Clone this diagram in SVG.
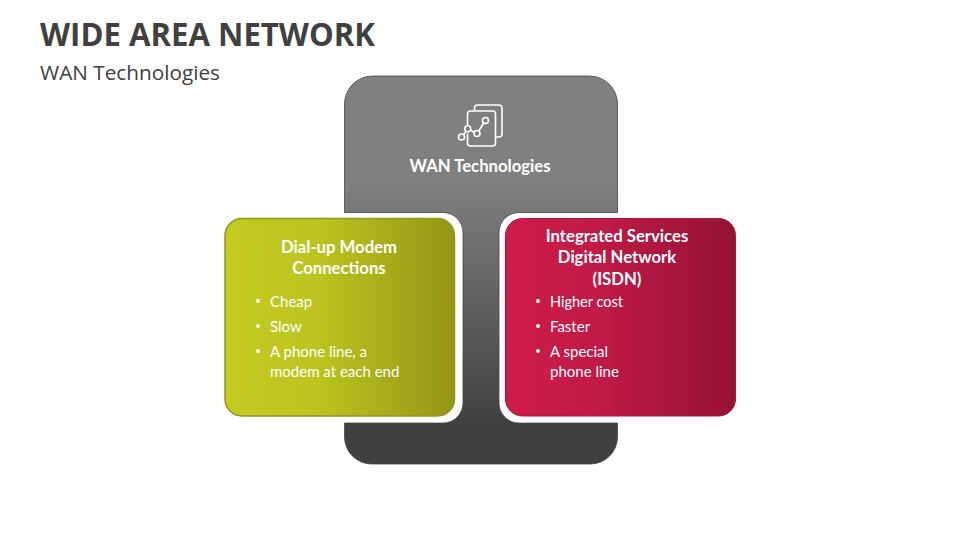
<svg xmlns="http://www.w3.org/2000/svg" width="960" height="540" viewBox="0 0 960 540">
<style>
text{font-family:Lato,"Liberation Sans",sans-serif;fill:#fff}
.h{font-size:16.700px;font-weight:700;text-anchor:middle}
.b{font-size:15px}
.card{stroke-width:1.5}
.ic{fill:none;stroke:#fff;stroke-width:1.6;stroke-linecap:round;stroke-linejoin:round}
</style>
<defs>
<linearGradient id="gT" x1="0" y1="0" x2="0" y2="1"><stop offset="0" stop-color="#808080"/><stop offset="0.28" stop-color="#7f7f7f"/><stop offset="0.9" stop-color="#404040"/><stop offset="1" stop-color="#404040"/></linearGradient>
<linearGradient id="gL"><stop offset="0" stop-color="#c3cb21"/><stop offset="0.4" stop-color="#bcc41f"/><stop offset="1" stop-color="#929616"/></linearGradient>
<linearGradient id="gR"><stop offset="0" stop-color="#cf1c4a"/><stop offset="0.4" stop-color="#c01a46"/><stop offset="1" stop-color="#941235"/></linearGradient>
</defs>
<rect width="960" height="540" fill="#fff"/>
<g id="title">
<text x="40" y="45.500" style="font-family:'Open Sans','Liberation Sans',sans-serif;font-size:33px;font-weight:700;fill:#404040" textLength="335" lengthAdjust="spacingAndGlyphs">WIDE AREA NETWORK</text>
<text x="40" y="80" style="font-family:'Open Sans','Liberation Sans',sans-serif;font-size:20px;fill:#404040" textLength="180" lengthAdjust="spacingAndGlyphs">WAN Technologies</text>
</g>
<g id="connectors"></g>
<g id="node-wan">
<path d="M344.500 212.500V104A28 28 0 0 1 372.500 76H589.500A28 28 0 0 1 617.500 104V212.500H519A20 20 0 0 0 499 232.500V403A20 20 0 0 0 519 423H617.500V437A27 27 0 0 1 590.500 464H371.500A27 27 0 0 1 344.500 437V423H443A20 20 0 0 0 463 403V232.500A20 20 0 0 0 443 212.500Z" fill="url(#gT)" stroke="#404040" stroke-width="0.75"/>
<g class="ic">
<path d="M474.500 110V108A3 3 0 0 1 477.500 105H499A3 3 0 0 1 502 108V134A3 3 0 0 1 499 137H495.500"/>
<path d="M467.500 125V114A3 3 0 0 1 470.500 111H492.500A3 3 0 0 1 495.500 114V143A3 3 0 0 1 492.500 146H470.500A3 3 0 0 1 467.500 143V134"/>
<circle cx="461.500" cy="137" r="3"/><circle cx="467.800" cy="128.800" r="3"/><circle cx="477" cy="133.500" r="3"/><circle cx="485.500" cy="120.500" r="3"/>
<path d="M463.500 134.700L466 131.300M470.500 130.200L474.300 132.200M478.700 131L483.800 123"/>
</g>
<text class="h" x="480" y="171.500">WAN Technologies</text>
</g>
<g id="node-dialup">
<rect class="card" x="225" y="218.500" width="229.500" height="197.500" rx="17" fill="url(#gL)" stroke="#93971a"/>
<text class="h" x="339" y="252.500">Dial-up Modem</text>
<text class="h" x="339" y="273.500">Connections</text>
<circle cx="258" cy="301" r="2" fill="#fff"/><text class="b" x="270" y="306.500">Cheap</text>
<circle cx="258" cy="326" r="2" fill="#fff"/><text class="b" x="270" y="331.500">Slow</text>
<circle cx="258" cy="351" r="2" fill="#fff"/><text class="b" x="270" y="356.500">A phone line, a</text>
<text class="b" x="270" y="376.500">modem at each end</text>
</g>
<g id="node-isdn">
<rect x="505.500" y="218.500" width="230" height="197.500" rx="17" fill="url(#gR)" stroke="#a8173e" stroke-width="1"/>
<text class="h" x="617" y="241.500">Integrated Services</text>
<text class="h" x="617" y="262.500">Digital Network</text>
<text class="h" x="617" y="284.500">(ISDN)</text>
<circle cx="538" cy="301" r="2" fill="#fff"/><text class="b" x="550" y="306.500" textLength="73" lengthAdjust="spacingAndGlyphs">Higher cost</text>
<circle cx="538" cy="326" r="2" fill="#fff"/><text class="b" x="550" y="331.500">Faster</text>
<circle cx="538" cy="351" r="2" fill="#fff"/><text class="b" x="550" y="356.500">A special</text>
<text class="b" x="550" y="376.500">phone line</text>
</g>
</svg>
